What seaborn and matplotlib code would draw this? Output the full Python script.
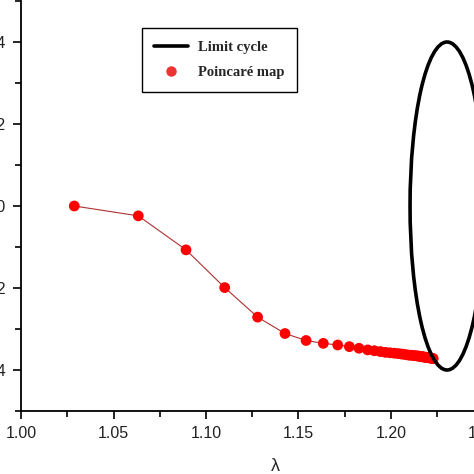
import matplotlib
matplotlib.use("Agg")
import matplotlib.pyplot as plt
from matplotlib.lines import Line2D
from matplotlib.patches import Ellipse
from matplotlib.ticker import MultipleLocator
import pandas as pd
import seaborn as sns

# Poincaré map points (lambda, y)
lam = [1.0288, 1.0634, 1.0892, 1.1101, 1.1279, 1.1427, 1.1541, 1.1634, 1.1712,
       1.1775, 1.1827, 1.1874, 1.1910, 1.1942, 1.1970, 1.1995, 1.2018, 1.2038,
       1.2056, 1.2072, 1.2087, 1.2100, 1.2112, 1.2123, 1.2133, 1.2142, 1.2150,
       1.2158, 1.2165, 1.2171, 1.2177, 1.2183, 1.2188, 1.2193, 1.2198, 1.2203,
       1.2208, 1.2212, 1.2216, 1.2220, 1.2224, 1.2228]
yval = [0.000, -0.024, -0.107, -0.199, -0.271, -0.311, -0.328, -0.335, -0.339,
        -0.343, -0.347, -0.351, -0.353, -0.355, -0.357, -0.358, -0.359, -0.360,
        -0.361, -0.362, -0.363, -0.364, -0.364, -0.365, -0.365, -0.366, -0.366,
        -0.367, -0.367, -0.368, -0.368, -0.369, -0.369, -0.369, -0.370, -0.370,
        -0.370, -0.371, -0.371, -0.371, -0.372, -0.372]

# limit cycle (ellipse in data units)
cycle_center = (1.2303, 0.0)
cycle_width = 0.040
cycle_height = 0.800

xticks = [1.00, 1.05, 1.10, 1.15, 1.20, 1.25]
yticks = [-0.4, -0.2, 0.0, 0.2, 0.4]

df = pd.DataFrame({"lam": lam, "y": yval})

sns.set_style("ticks")
plt.rcParams["font.family"] = ["Liberation Sans", "DejaVu Sans"]

fig = plt.figure(figsize=(4.74, 4.74), dpi=100)
ax = fig.add_axes([21 / 474, 63 / 474, 508.75 / 474, 410 / 474])

sns.lineplot(data=df, x="lam", y="y", ax=ax, color="#b03030", linewidth=0.8,
             sort=False, estimator=None, zorder=2)
sns.scatterplot(data=df, x="lam", y="y", ax=ax, color="#ff0000", s=60,
                edgecolor="none", zorder=3)

ax.add_patch(Ellipse(cycle_center, cycle_width, cycle_height, fill=False,
                     edgecolor="black", linewidth=2.6, zorder=4))

ax.set_xlim(1.00, 1.275)
ax.set_ylim(-0.5, 0.5)
ax.set_xticks(xticks)
ax.set_xticklabels([f"{v:.2f}" for v in xticks])
ax.set_yticks(yticks)
ax.set_yticklabels([f"{v:.1f}" for v in yticks])
ax.xaxis.set_minor_locator(MultipleLocator(0.025))
ax.yaxis.set_minor_locator(MultipleLocator(0.1))
ax.tick_params(which="major", direction="out", length=6, width=1.2,
               labelsize=11.5, pad=5, color="black", labelcolor="#222222")
ax.tick_params(which="minor", direction="out", length=4, width=1.2, color="black")

for s in ["left", "bottom"]:
    ax.spines[s].set_linewidth(1.3)
    ax.spines[s].set_color("black")
sns.despine(ax=ax)

ax.set_xlabel("λ", fontsize=13)
ax.set_ylabel("")
ax.xaxis.set_label_coords(0.5, -0.115)

handles = [
    Line2D([], [], color="black", linewidth=2.6),
    Line2D([], [], color="#ee3333", marker="o", linestyle="none", markersize=7.5,
           markeredgewidth=0),
]
leg = ax.legend(handles, ["Limit cycle", "Poincaré map"], loc="upper left",
                bbox_to_anchor=(0.238, 0.934), borderaxespad=0, frameon=True,
                fancybox=False, framealpha=1, edgecolor="black",
                handlelength=2.3, handletextpad=0.7, labelspacing=0.85,
                borderpad=0.85,
                prop={"family": "Liberation Serif", "weight": "bold", "size": 10.5})
leg.get_frame().set_linewidth(1.0)

fig.savefig("out.png", dpi=100)
